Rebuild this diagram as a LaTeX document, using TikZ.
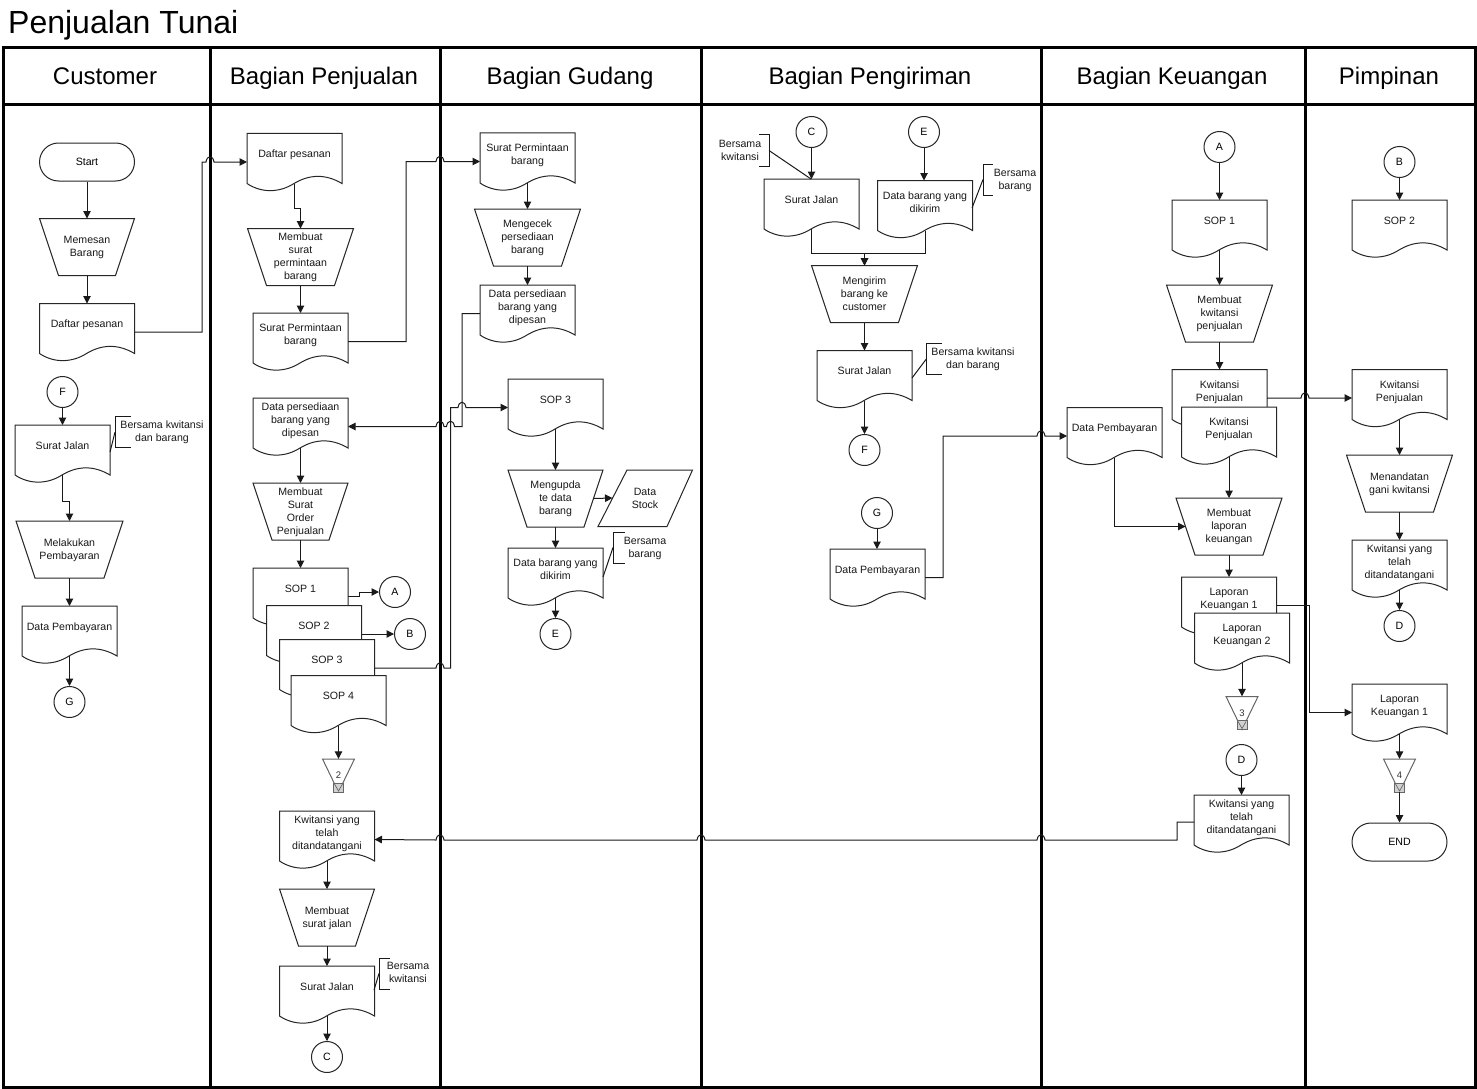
\documentclass[tikz,border=0pt]{standalone}
\usepackage{fontspec}
\setmainfont{Liberation Sans}
\usetikzlibrary{arrows.meta}
\tikzset{
  lane/.style={draw=black,line width=3pt},
  shapeline/.style={draw=black!85,line width=1pt,fill=white,line join=miter},
  txt/.style={font=\fontsize{10.6}{13}\selectfont,align=center,inner sep=0pt,text=black!90,execute at begin node=\strut,execute at end node=\strut},
  doctext/.style={txt,minimum width=95pt,minimum height=41pt},
  traptext/.style={txt,minimum height=57pt},
  head/.style={font=\fontsize{24}{28}\selectfont,inner sep=0pt,anchor=base},
  conn/.style={draw=black!90,line width=1pt},
  arr/.style={conn,-{Triangle[length=7.5pt,width=7.5pt]}},
  circ/.style={shape=circle,draw=black!85,line width=1pt,fill=white,minimum size=31pt,inner sep=0pt,font=\fontsize{10.6}{13}\selectfont},
  term/.style={shape=rectangle,draw=black!85,line width=1pt,fill=white,rounded corners=19pt,minimum width=95pt,minimum height=38pt,inner sep=0pt,font=\fontsize{10.6}{13}\selectfont},
  offtext/.style={inner sep=0pt,font=\fontsize{9.5}{11}\selectfont,minimum width=32pt,minimum height=33pt,text=black!80},
  offline/.style={draw=black!60,line width=1pt,fill=white},
  offbox/.style={draw=black!60,line width=1pt,fill=black!18},
}
% document symbol: [text offset], name, x, y, text
\newcommand\docn[5][23.5]{%
  \path[shapeline] (#3,#4) -- (#3+95,#4) -- (#3+95,#4+50)
    .. controls (#3+78,#4+40) and (#3+62,#4+41) .. (#3+47,#4+50)
    .. controls (#3+33,#4+59) and (#3+15,#4+60) .. (#3,#4+50) -- cycle;
  \node[doctext] (#2) at (#3+47.5,#4+#1) {#5};
  \coordinate (#2-b) at (#3+47.5,#4+50);
  \coordinate (#2-r) at (#3+95,#4+28.5);
  \coordinate (#2-l) at (#3,#4+28.5);
  \coordinate (#2-t) at (#3+47.5,#4);
}
% manual operation: name, cx, y, width, text
\newcommand\trapn[5]{%
  \path[shapeline] (#2-#4/2,#3) -- (#2+#4/2,#3) -- (#2+#4/2-19,#3+57) -- (#2-#4/2+19,#3+57) -- cycle;
  \node[traptext,minimum width=#4pt] (#1) at (#2,#3+29.75) {#5};
  \coordinate (#1-w) at (#2-#4/2+9.5,#3+28.5);
  \coordinate (#1-e) at (#2+#4/2-9.5,#3+28.5);
  \coordinate (#1-t) at (#2,#3);
  \coordinate (#1-b) at (#2,#3+57);
}
% off-page store: name, cx, y, number
\newcommand\offp[4]{%
  \path[offline] (#2-16,#3) -- (#2+16,#3) -- (#2,#3+33) -- cycle;
  \path[offbox] (#2-5,#3+24) rectangle (#2+5,#3+33);
  \draw[draw=black!60,line width=.7pt] (#2-4,#3+25) -- (#2,#3+32) -- (#2+4,#3+25);
  \node[offtext] (#1) at (#2,#3+16.5) {#4};
}
% annotation: name, bracket x, top y, tick x, source x, source y, text x, text y, text
\newcommand\annot[9]{%
  \coordinate (#1-s) at (#5,#6);
  \coordinate (#1-m) at (#2,#3+15.5);
  \draw[conn] (#4,#3) -- (#2,#3) -- (#2,#3+31) -- (#4,#3+31);
  \draw[conn] (#1-s) -- (#1-m);
  \node[txt] (#1) at (#7,#8+2.5) {#9};
}
\newcommand\jr[2]{-- (#1-4,#2) .. controls (#1-3,#2-7) and (#1+3,#2-7) .. (#1+4,#2)}
\newcommand\jl[2]{-- (#1+4,#2) .. controls (#1+3,#2-7) and (#1-3,#2-7) .. (#1-4,#2)}
\begin{document}
\begin{tikzpicture}[x=1pt,y=-1pt]
\useasboundingbox (0,0) rectangle (1477,1089);
% title and lanes
\node[anchor=base west,inner sep=0pt,font=\fontsize{32}{36}\selectfont] (title) at (8,34) {Penjualan Tunai};
\draw[lane] (3,48) rectangle (1475,1087);
\draw[lane] (3,105) -- (1475,105);
\foreach \lx in {210,440,701,1041,1305} \draw[lane] (\lx,48) -- (\lx,1087);
\node[head] (h1) at (105,85) {Customer};
\node[head] (h2) at (324,85) {Bagian Penjualan};
\node[head] (h3) at (570,85) {Bagian Gudang};
\node[head] (h4) at (870,85) {Bagian Pengiriman};
\node[head] (h5) at (1172,85) {Bagian Keuangan};
\node[head] (h6) at (1389,85) {Pimpinan};

% Customer
\node[term] (start) at (87,162) {Start};
\trapn{cMemesan}{87}{218.5}{95}{Memesan\\Barang}
\docn[21.5]{cDaftar}{39.5}{303.5}{Daftar pesanan}
\node[circ] (cF) at (62.5,392) {F};
\docn[21.5]{cSurat}{15}{425}{Surat Jalan}
\annot{an1}{115}{416.7}{131}{110}{452}{162}{431}{Bersama kwitansi\\dan barang}
\trapn{cBayar}{69.5}{521}{107}{Melakukan\\Pembayaran}
\docn[21.5]{cData}{22}{606}{Data Pembayaran}
\node[circ] (cG) at (69.5,702) {G};

% Bagian Penjualan
\docn[21.5]{pDaftar}{247}{133.5}{Daftar pesanan}
\trapn{pSurat}{300.5}{228.5}{106}{Membuat\\surat\\permintaan\\barang}
\docn{pMinta}{253}{313}{Surat Permintaan\\barang}
\docn{pPersed}{253}{398}{Data persediaan\\barang yang\\dipesan}
\trapn{pOrder}{300.5}{483}{95}{Membuat\\Surat\\Order\\Penjualan}
\docn[21.5]{pSop1}{253}{568}{SOP 1}
\docn[21.5]{pSop2}{266.5}{605.5}{SOP 2}
\docn[21.5]{pSop3}{279.5}{639.5}{SOP 3}
\docn[21.5]{pSop4}{291}{675.5}{SOP 4}
\node[circ] (pA) at (395,592) {A};
\node[circ] (pB) at (410,634) {B};
\offp{off2}{338.5}{759}{2}
\docn{pKwit}{279.5}{811}{Kwitansi yang\\telah\\ditandatangani}
\trapn{pJalan}{327}{889}{95}{Membuat\\surat jalan}
\docn[21.5]{pSurat2}{279.5}{966}{Surat Jalan}
\annot{an2}{379}{958}{390}{374}{990}{408}{971.5}{Bersama\\kwitansi}
\node[circ] (pC) at (327,1057) {C};

% Bagian Gudang
\docn{gMinta}{480}{133}{Surat Permintaan\\barang}
\trapn{gCek}{527.5}{209}{106}{Mengecek\\persediaan\\barang}
\docn{gPersed}{480}{285}{Data persediaan\\barang yang\\dipesan}
\docn[21.5]{gSop3}{508}{379}{SOP 3}
\trapn{gUpdate}{555.5}{470}{95}{Mengupda\\te data\\barang}
\path[shapeline] (627,470) -- (692.5,470) -- (667,526.5) -- (598,526.5) -- cycle;
\node[txt] (gStock) at (645,500) {Data\\Stock};
\coordinate (gStock-w) at (612.5,498);
\docn{gKirim}{508}{548}{Data barang yang\\dikirim}
\annot{an3}{613}{532}{625}{603}{577}{645}{546.5}{Bersama\\barang}
\node[circ] (gE) at (555.5,634) {E};

% Bagian Pengiriman
\node[circ] (kC) at (811.5,132) {C};
\node[circ] (kE) at (924,132) {E};
\docn[21.5]{kSurat}{764}{179}{Surat Jalan}
\annot{an4}{769}{135}{759}{811}{179}{740}{149.5}{Bersama\\kwitansi}
\docn{kBarang}{877.5}{180.5}{Data barang yang\\dikirim}
\annot{an5}{983}{164}{993}{972}{208}{1015}{178.5}{Bersama\\barang}
\trapn{kKirim}{864.5}{265.5}{106}{Mengirim\\barang ke\\customer}
\docn[21.5]{kSurat2}{817}{350.5}{Surat Jalan}
\annot{an6}{926.7}{343}{942}{912}{378}{973}{357.5}{Bersama kwitansi\\dan barang}
\node[circ] (kF) at (864.5,450) {F};
\node[circ] (kG) at (877,513) {G};
\docn[21.5]{kBayar}{830}{549}{Data Pembayaran}

% Bagian Keuangan
\node[circ] (uA) at (1219.5,147) {A};
\docn[21.5]{uSop1}{1172}{200}{SOP 1}
\trapn{uKwit}{1219.5}{285}{106}{Membuat\\kwitansi\\penjualan}
\docn{uPenj1}{1172}{369.5}{Kwitansi\\Penjualan}
\docn{uPenj2}{1181.5}{407}{Kwitansi\\Penjualan}
\docn[21.5]{uBayar}{1067}{407.5}{Data Pembayaran}
\trapn{uLap}{1229}{498}{106}{Membuat\\laporan\\keuangan}
\docn{uLap1}{1181.5}{577}{Laporan\\Keuangan 1}
\docn{uLap2}{1194.5}{613}{Laporan\\Keuangan 2}
\offp{off3}{1242}{696.5}{3}
\node[circ] (uD) at (1241.5,760) {D};
\docn{uTtd}{1194}{795}{Kwitansi yang\\telah\\ditandatangani}

% Pimpinan
\node[circ] (iB) at (1399.5,162) {B};
\docn[21.5]{iSop2}{1352}{200}{SOP 2}
\docn{iPenj}{1352}{369.5}{Kwitansi\\Penjualan}
\trapn{iTtd}{1399.5}{455}{106}{Menandatan\\gani kwitansi}
\docn{iKwit}{1352}{540}{Kwitansi yang\\telah\\ditandatangani}
\node[circ] (iD) at (1399.5,626) {D};
\docn{iLap}{1352}{684}{Laporan\\Keuangan 1}
\offp{off4}{1399.5}{759}{4}
\node[term] (iEnd) at (1399.5,842) {END};

% connectors: Customer
\draw[arr] (start) -- (cMemesan-t);
\draw[arr] (cMemesan-b) -- (cMemesan-b |- cDaftar-t);
\draw[arr] (cF) -- (cSurat-t);
\draw[arr] (cSurat-b) -- ++(0,26) -| (cBayar-t);
\draw[arr] (cBayar-b) -- (cData-t);
\draw[arr] (cData-b) -- (cG);
% Customer to Penjualan
\draw[arr] (cDaftar-r) -- (202,332) -- (202,162) \jr{210}{162} -- (pDaftar-l);
% Penjualan
\draw[arr] (pDaftar-b) -- ++(0,25) -| (pSurat-t);
\draw[arr] (pSurat-b) -- (pMinta-t);
\draw[arr] (pMinta-r) -- (406,341.5) -- (406,161.5) \jr{440}{161.5} -- (gMinta-l);
\draw[arr] (pPersed-b) -- (pOrder-t);
\draw[arr] (pOrder-b) -- (pSop1-t);
\draw[arr] (pSop1-r) -- (359,596.5) -- (359,592) -- (pA);
\draw[arr] (pSop2-r |- pB) -- (pB);
\draw[arr] (pSop4-b) -- (off2.north);
\draw[arr] (pKwit-b) -- (pJalan-t);
\draw[arr] (pJalan-b) -- (pSurat2-t);
\draw[arr] (pSurat2-b) -- (pC);
% Gudang
\draw[arr] (gMinta-b) -- (gCek-t);
\draw[arr] (gCek-b) -- (gPersed-t);
\draw[arr] (gPersed-l) -- (462,313.5) -- (462,426.5) \jl{450.5}{426.5} \jl{440}{426.5} -- (pPersed-r);
\draw[arr] (pSop3-r) \jr{440}{668} -- (450.5,668) -- (450.5,407.5) \jr{462}{407.5} -- (gSop3-l);
\draw[arr] (gSop3-b) -- (gUpdate-t);
\draw[arr] (gUpdate-e) -- (gStock-w);
\draw[arr] (gUpdate-b) -- (gKirim-t);
\draw[arr] (gKirim-b) -- (gE);
% Pengiriman
\draw[arr] (kC) -- (kSurat-t);
\draw[arr] (kE) -- (kE |- kBarang-t);
\draw[arr] (kSurat-b) |- (kKirim-t |- 0,253) -- (kKirim-t);
\draw[arr] (kBarang-b) |- (kKirim-t |- 0,253) -- (kKirim-t);
\draw[arr] (kKirim-b) -- (kSurat2-t);
\draw[arr] (kSurat2-b) -- (kF);
\draw[arr] (kG) -- (kG |- kBayar-t);
\draw[arr] (kBayar-r) -- (943,577.5) -- (943,436) \jr{1041}{436} -- (uBayar-l);
% Keuangan
\draw[arr] (uA) -- (uSop1-t);
\draw[arr] (uSop1-b) -- (uKwit-t);
\draw[arr] (uKwit-b) -- (uPenj1-t);
\draw[arr] (uPenj2-b) -- (uLap-t);
\draw[arr] (uBayar-b) |- (uLap-w);
\draw[arr] (uLap-b) -- (uLap1-t);
\draw[arr] (uLap2-b) -- (off3.north);
\draw[arr] (uD) -- (uD |- uTtd-t);
\draw[arr] (uTtd-l) ++(0,-1.5) -- (1177,822) -- (1177,840) \jl{1041}{840} \jl{701}{840} \jl{440}{840} -- (pKwit-r);
\draw[arr] (uPenj1-r) \jr{1305}{398} -- (iPenj-l);
\draw[arr] (uLap1-r) -- (1309,605.5) -- (1309,712.5) -- (iLap-l);
% Pimpinan
\draw[arr] (iB) -- (iSop2-t);
\draw[arr] (iPenj-b) -- (iTtd-t);
\draw[arr] (iTtd-b) -- (iKwit-t);
\draw[arr] (iKwit-b) -- (iD);
\draw[arr] (iLap-b) -- (off4.north);
\draw[arr] (off4.south) -- (iEnd.north);
\end{tikzpicture}
\end{document}
